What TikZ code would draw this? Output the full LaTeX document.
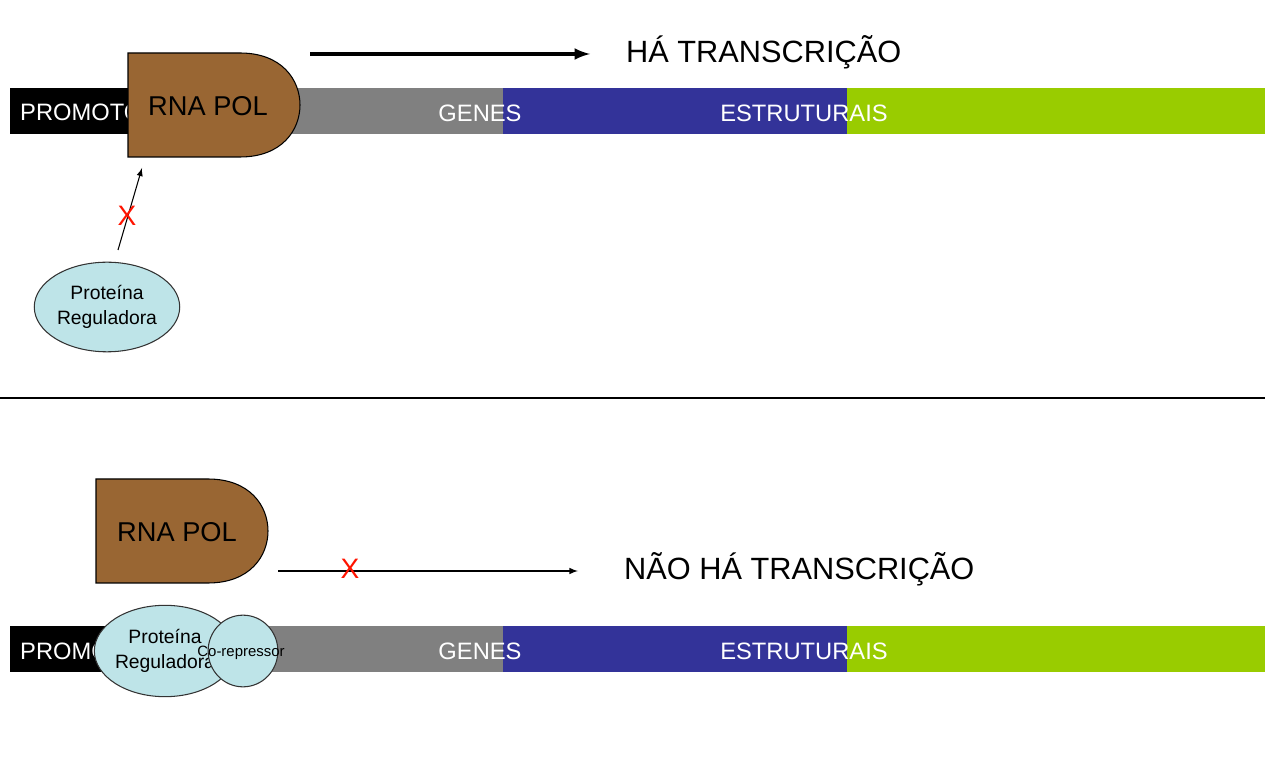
\documentclass[tikz,border=0pt]{standalone}
\usepackage{fontspec}
\setmainfont{Liberation Sans}
\usetikzlibrary{shapes.geometric}
\definecolor{gblue}{RGB}{51,51,153}
\definecolor{ggreen}{RGB}{153,204,0}
\definecolor{ggray}{RGB}{128,128,128}
\definecolor{gbrown}{RGB}{153,102,51}
\definecolor{gcyan}{RGB}{190,228,232}
\begin{document}
\begin{tikzpicture}[x=0.02cm,y=-0.02cm,
 lab/.style={text=white,font=\fontsize{13.5}{15}\selectfont},
 pol/.style={fill=gbrown,draw=black,line width=0.6pt},
 prot/.style={ellipse,draw=black!80,fill=gcyan,line width=0.6pt,inner sep=0},
 big/.style={font=\fontsize{17.5}{20}\selectfont},
 redx/.style={text=red!85!orange,font=\fontsize{16}{18}\selectfont}]
\useasboundingbox (0,0) rectangle (1278,766);
% ---------- top ----------
\fill[black] (10,88) rectangle (130,134);
\fill[ggray] (130,88) rectangle (503,134);
\fill[gblue] (503,88) rectangle (847,134);
\fill[ggreen] (847,88) rectangle (1265,134);
\node[lab,anchor=west] (pr1) at (14,112) {PROMOTOR};
\node[lab] (g1) at (480,113) {GENES};
\node[lab] (e1) at (804,113) {ESTRUTURAIS};
\draw[pol] (128,53) -- (240,53) .. controls (282,53) and (300,80) .. (300,105) .. controls (300,130) and (282,157) .. (240,157) -- (128,157) -- cycle;
\node[font=\fontsize{15.5}{18}\selectfont] (rp1) at (208,106) {RNA POL};
\coordinate (a1s) at (310,54); \coordinate (a1e) at (590,54);
\draw[line width=2pt,-latex] (a1s) -- (a1e);
\node[big,anchor=west] (t1) at (620,52) {HÁ TRANSCRIÇÃO};
\node[prot,minimum width=82.8pt,minimum height=51pt,align=center,font=\fontsize{11}{14}\selectfont] (p1) at (107,307) {Proteína\\Reguladora};
\coordinate (tail1) at (118,250);
\coordinate (tip1) at (142,168);
\draw[-latex,line width=0.6pt] (tail1) -- (tip1);
\node[redx] (x1) at (127,216) {X};
% separator
\coordinate (s1) at (0,398); \coordinate (s2) at (1265,398);
\draw[line width=0.7pt] (s1) -- (s2);
% ---------- bottom ----------
\draw[pol] (96,479) -- (208,479) .. controls (250,479) and (268,506) .. (268,531) .. controls (268,556) and (250,583) .. (208,583) -- (96,583) -- cycle;
\node[font=\fontsize{15.5}{18}\selectfont] (rp2) at (177,532) {RNA POL};
\coordinate (a2s) at (278,571); \coordinate (a2e) at (578,571);
\draw[line width=0.7pt,-latex] (a2s) -- (a2e);
\node[redx] (x2) at (350,569) {X};
\node[big,anchor=west] (t2) at (618,569) {NÃO HÁ TRANSCRIÇÃO};
\fill[black] (10,626) rectangle (130,672);
\fill[ggray] (130,626) rectangle (503,672);
\fill[gblue] (503,626) rectangle (847,672);
\fill[ggreen] (847,626) rectangle (1265,672);
\node[lab,anchor=west] (pr2) at (14,651) {PROMOTOR};
\node[lab] (g2) at (480,651) {GENES};
\node[lab] (e2) at (804,651) {ESTRUTURAIS};
\node[prot,minimum width=65.8pt,minimum height=52pt,align=center,font=\fontsize{11}{14}\selectfont] (p2) at (165,651) {Proteína\\Reguladora};
\node[prot,minimum width=39.7pt,minimum height=40.8pt] (c2) at (243,651) {};
\node[font=\fontsize{8.5}{10}\selectfont] (ct) at (241,653) {Co-repressor};
\end{tikzpicture}
\end{document}
